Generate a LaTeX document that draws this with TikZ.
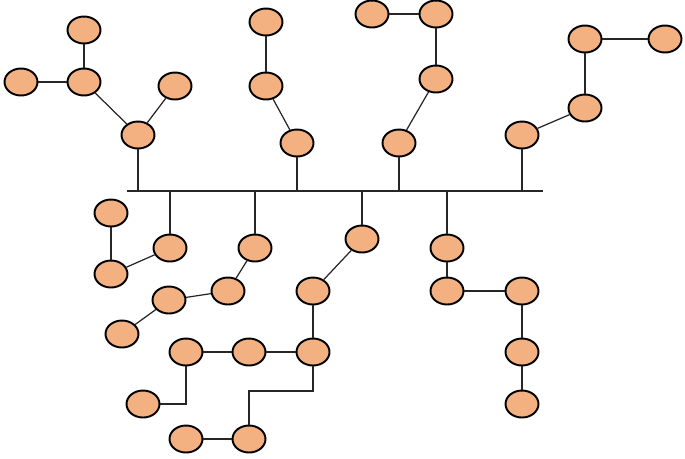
\documentclass[tikz,border=0pt]{standalone}
\usepackage{tikz}
\usetikzlibrary{shapes.geometric}

\definecolor{nodefill}{RGB}{243,177,130}

\begin{document}
\begin{tikzpicture}[x=0.02cm, y=-0.02cm,
	vert/.style={ellipse, draw=black, line width=1.1pt, fill=nodefill, minimum width=0.66cm, minimum height=0.54cm, inner sep=0pt},
	link/.style={draw=black!85, line width=0.7pt}]
				\useasboundingbox (0,0) rectangle (685,458);
				
				% upper branches
				\node[vert] (a1) at (84,30){};
				\node[vert] (a2) at (84,82){};
				\node[vert] (a3) at (21,82){};
				\node[vert] (a4) at (175,86){};
				\node[vert] (a5) at (138,135){};
				
				\node[vert] (b1) at (266,22){};
				\node[vert] (b2) at (266,86){};
				\node[vert] (b3) at (297,143){};
				
				\node[vert] (c1) at (372,14){};
				\node[vert] (c2) at (436,14){};
				\node[vert] (c3) at (436,79){};
				\node[vert] (c4) at (399,143){};
				
				\node[vert] (d1) at (585,39){};
				\node[vert] (d2) at (665,39){};
				\node[vert] (d3) at (585,108){};
				\node[vert] (d4) at (522,135){};
				
				% lower branches
				\node[vert] (e1) at (111,213){};
				\node[vert] (e2) at (111,274){};
				\node[vert] (e3) at (170,248){};
				
				\node[vert] (f1) at (255,248){};
				\node[vert] (f2) at (228,291){};
				\node[vert] (f3) at (169,300){};
				\node[vert] (f4) at (122,334){};
				
				\node[vert] (g1) at (362,239){};
				\node[vert] (g2) at (313,291){};
				\node[vert] (g3) at (313,352){};
				\node[vert] (g4) at (249,352){};
				\node[vert] (g5) at (186,352){};
				\node[vert] (g6) at (143,404){};
				\node[vert] (g7) at (249,439){};
				\node[vert] (g8) at (186,439){};
				
				\node[vert] (h1) at (447,248){};
				\node[vert] (h2) at (447,291){};
				\node[vert] (h3) at (522,291){};
				\node[vert] (h4) at (522,352){};
				\node[vert] (h5) at (522,404){};
				
				\coordinate (busl) at (127,191);
				\coordinate (busr) at (543,191);
				\coordinate (kink) at (313,391);
				
				\path[link, line width=1pt] (busl) -- (busr);
				
				\path[link] (a5) -- (a5 |- busl);
				\path[link] (b3) -- (b3 |- busl);
				\path[link] (c4) -- (c4 |- busl);
				\path[link] (d4) -- (d4 |- busl);
				\path[link] (e3) -- (e3 |- busl);
				\path[link] (f1) -- (f1 |- busl);
				\path[link] (g1) -- (g1 |- busl);
				\path[link] (h1) -- (h1 |- busl);
				
				\path[link] (a1) edge (a2);
				\path[link] (a3) edge (a2);
				\path[link] (a2) edge (a5);
				\path[link] (a4) edge (a5);
				
				\path[link] (b1) edge (b2);
				\path[link] (b2) edge (b3);
				
				\path[link] (c1) edge (c2);
				\path[link] (c2) edge (c3);
				\path[link] (c3) edge (c4);
				
				\path[link] (d1) edge (d2);
				\path[link] (d1) edge (d3);
				\path[link] (d3) edge (d4);
				
				\path[link] (e1) edge (e2);
				\path[link] (e2) edge (e3);
				
				\path[link] (f1) edge (f2);
				\path[link] (f2) edge (f3);
				\path[link] (f3) edge (f4);
				
				\path[link] (g1) edge (g2);
				\path[link] (g2) edge (g3);
				\path[link] (g3) edge (g4);
				\path[link] (g4) edge (g5);
				\path[link] (g5) |- (g6);
				\path[link] (g3) -- (kink) -| (g7);
				\path[link] (g7) edge (g8);
				
				\path[link] (h1) edge (h2);
				\path[link] (h2) edge (h3);
				\path[link] (h3) edge (h4);
				\path[link] (h4) edge (h5);
				\end{tikzpicture}
\end{document}
